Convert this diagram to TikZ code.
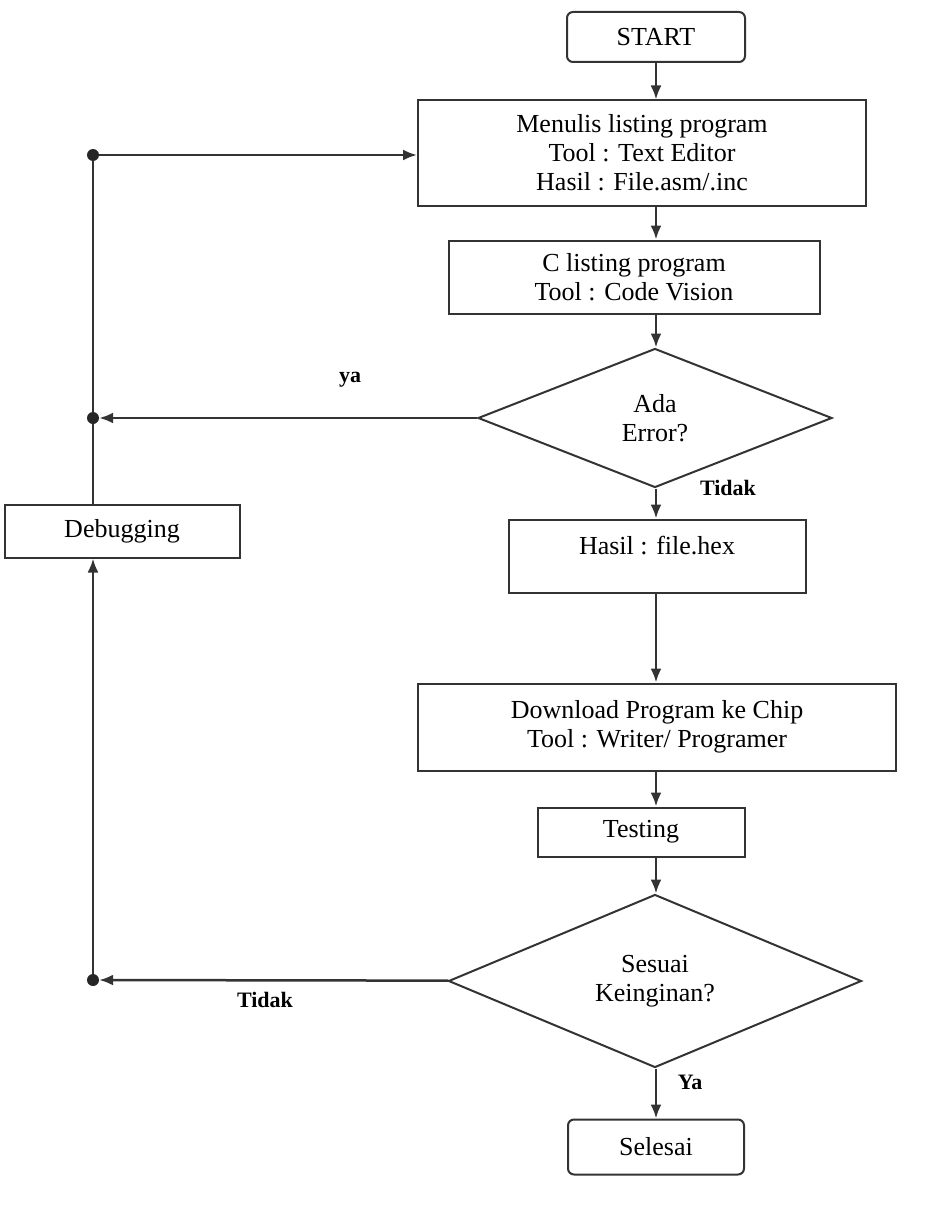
\documentclass[tikz,border=0pt]{standalone}
\usepackage{fontspec}
\setmainfont{Liberation Serif}
\usetikzlibrary{shapes.geometric,arrows.meta}
\begin{document}
\begin{tikzpicture}[x=1pt,y=-1pt,
  box/.style={draw=black!80,line width=2pt,align=center,font=\fontsize{26}{29}\selectfont,inner sep=0pt},
  rbox/.style={box,rounded corners=6pt},
  dia/.style={draw=black!80,line width=2pt,diamond,aspect=2.5,align=center,font=\fontsize{26}{29}\selectfont,inner sep=0pt},
  lab/.style={font=\bfseries\fontsize{22}{24}\selectfont},
  arr/.style={draw=black!80,line width=2.5pt,-{Latex[length=14pt,width=11pt]}},
  ln/.style={draw=black!80,line width=2.5pt},
  dot/.style={circle,fill=black!85,inner sep=0pt,minimum size=12pt}]
\useasboundingbox (0,0) rectangle (926,1209);
\node[rbox,minimum width=178pt,minimum height=50pt] (start) at (656,37) {START};
\node[box,minimum width=448pt,minimum height=105pt] (b1) at (642,153) {Menulis listing program\\Tool : Text Editor\\Hasil : File.asm/.inc};
\node[box,minimum width=371pt,minimum height=73pt] (b2) at (634,277) {C listing program\\Tool : Code Vision};
\node[dia,minimum width=354pt,minimum height=139pt] (d1) at (655,418) {Ada\\Error?};
\node[box,minimum width=297pt,minimum height=73pt] (b3) at (657,556) {};
\node[font=\fontsize{26}{29}\selectfont] (b3t) at (657,546) {Hasil : file.hex};
\node[box,minimum width=478pt,minimum height=87pt] (b4) at (657,727) {Download Program ke Chip\\Tool : Writer/ Programer};
\node[box,minimum width=207pt,minimum height=49pt] (test) at (641,832) {Testing};
\node[dia,minimum width=413pt,minimum height=173pt] (d2) at (655,981) {Sesuai\\Keinginan?};
\node[rbox,minimum width=176pt,minimum height=55pt] (end) at (656,1147) {Selesai};
\node[box,minimum width=235pt,minimum height=53pt] (dbg) at (122,531) {Debugging};
\node[dot] (p1) at (93,155) {};
\node[dot] (p2) at (93,418) {};
\node[dot] (p3) at (93,980) {};
\coordinate (col) at (656,0);
\node[lab] at (350,380) {ya};
\node[lab] at (728,488) {Tidak};
\node[lab] at (265,1000) {Tidak};
\node[lab] at (690,1082) {Ya};
\draw[arr] (start.south -| col) -- (b1.north -| col);
\draw[arr] (b1.south -| col) -- (b2.north -| col);
\draw[arr] (b2.south -| col) -- (d1.north -| col);
\draw[arr] (d1.south -| col) -- (b3.north -| col);
\draw[arr] (b3.south -| col) -- (b4.north -| col);
\draw[arr] (b4.south -| col) -- (test.north -| col);
\draw[arr] (test.south -| col) -- (d2.north -| col);
\draw[arr] (d2.south -| col) -- (end.north -| col);
\draw[arr] (d1) -- (p2);
\draw[arr] (d2) -- (p3);
\draw[arr] (p1) -- (b1.west |- p1);
\draw[ln] (dbg.north -| p2) -- (p2) -- (p1);
\draw[arr] (p3) -- (dbg.south -| p3);
\end{tikzpicture}
\end{document}
